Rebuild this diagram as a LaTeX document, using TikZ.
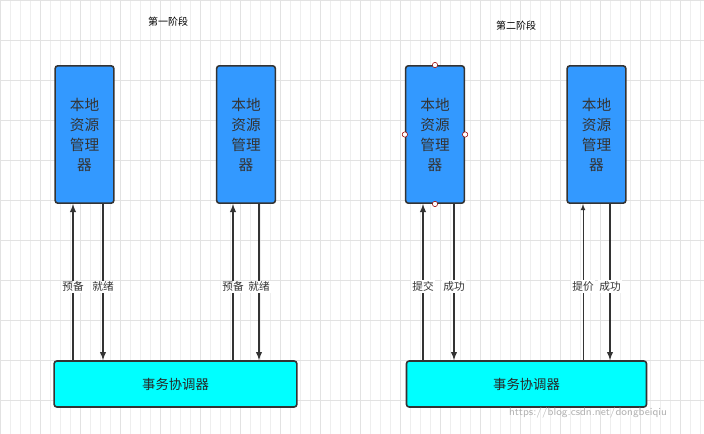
\documentclass[tikz,border=0pt]{standalone}
\usepackage{fontspec}
\newfontfamily\cjk{Noto Sans CJK SC}
\definecolor{rmblue}{RGB}{51,153,255}
\definecolor{cocyan}{RGB}{0,255,255}
\definecolor{gridc}{RGB}{238,238,238}
\definecolor{gridd}{RGB}{226,226,226}
\begin{document}
\begin{tikzpicture}[x=0.75pt,y=-0.75pt,
 rm/.style={draw=black!80,line width=1.2pt,fill=rmblue,rounded corners=2pt,minimum width=44pt,minimum height=103pt,inner sep=0pt,font=\cjk\fontsize{11}{15}\selectfont,text=black!80,align=center},
 co/.style={draw=black!80,line width=1.2pt,fill=cocyan,rounded corners=2pt,minimum height=34.5pt,inner sep=0pt,font=\cjk\fontsize{10}{12}\selectfont,text=black!85},
 ar/.style={draw=black!80,line width=1.1pt,-latex},
 lb/.style={fill=white,inner sep=1pt,font=\cjk\fontsize{8}{10}\selectfont,text=black!80},
 hd/.style={circle,draw=red!60!black,fill=white,inner sep=0pt,minimum size=4pt,line width=0.4pt}]
\useasboundingbox (0,0) rectangle (704,434);
\fill[white] (0,0) rectangle (704,434);
\draw[gridc,line width=0.3pt] (0,0) grid[step=10] (704,434);
\foreach \x in {0,40,...,700}\draw[gridd,line width=0.4pt](\x,0)--(\x,434);
\foreach \y in {0,40,...,430}\draw[gridd,line width=0.4pt](0,\y)--(704,\y);
\node[font=\cjk\fontsize{7.5}{9}\selectfont] (t1) at (168,22) {第一阶段};
\node[font=\cjk\fontsize{7.5}{9}\selectfont] (t2) at (516,26) {第二阶段};
\node[rm] (r1) at (84.5,134.5) {本地\\资源\\管理\\器};
\node[rm] (r2) at (246,134.5) {本地\\资源\\管理\\器};
\node[rm] (r3) at (435,134.5) {本地\\资源\\管理\\器};
\node[rm] (r4) at (596.5,134.5) {本地\\资源\\管理\\器};
\node[co,minimum width=182pt] (c1) at (175.5,384) {事务协调器};
\node[co,minimum width=180pt] (c2) at (526.5,384) {事务协调器};
\foreach \a/\b/\x/\t/\w in {c1/r1/73/预备/1.1pt,c1/r2/233/预备/1.1pt,c2/r3/423/提交/1.1pt,c2/r4/583/提价/0.6pt}{
 \draw[ar,line width=\w] (\a.north -| \x,0) -- node[lb,pos=0.47]{\t} (\b.south -| \x,0);}
\foreach \a/\b/\x/\t in {r1/c1/103/就绪,r2/c1/259/就绪,r3/c2/454/成功,r4/c2/610/成功}{
 \draw[ar] (\a.south -| \x,0) -- node[lb,pos=0.53]{\t} (\b.north -| \x,0);}
\foreach \p in {north,south,east,west}\node[hd] (h\p) at (r3.\p) {};
\node[text=black!30,font=\fontsize{8}{10}\selectfont\sffamily] (wm) at (588,413) {https://blog.csdn.net/dongbeiqiu};
\end{tikzpicture}
\end{document}
